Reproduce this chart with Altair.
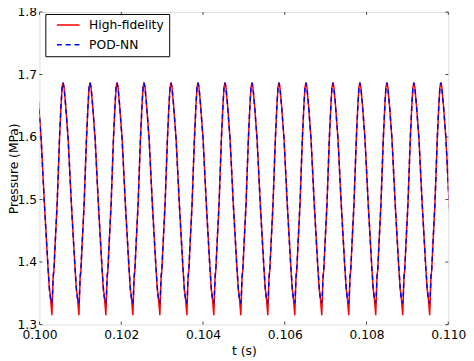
import altair as alt
import pandas as pd

# Peak times of the pressure oscillation (s)
peak_times = [0.099917, 0.100577, 0.101237, 0.101897, 0.102557, 0.103217,
              0.103877, 0.104537, 0.105197, 0.105857, 0.106517, 0.107177,
              0.107837, 0.108497, 0.109157, 0.109817]
# One cycle, read as time offsets from each peak (s)
cycle_offsets = [-0.000272, -0.000257, -0.000241, -0.000224, -0.000192,
                 -0.000144, -0.000087, -0.000048, -0.000022, 0.0, 0.000024,
                 0.000065, 0.000125, 0.000204, 0.000289, 0.000327, 0.000344]
# Pressure values (MPa) along one cycle
hifi_cycle = [1.315, 1.345, 1.378, 1.386, 1.430, 1.493, 1.597, 1.652, 1.680,
              1.687, 1.680, 1.650, 1.597, 1.493, 1.395, 1.355, 1.350]
podnn_cycle = [1.334, 1.350, 1.376, 1.386, 1.430, 1.493, 1.597, 1.652, 1.680,
               1.687, 1.680, 1.650, 1.597, 1.493, 1.395, 1.358, 1.345]

series_names = ["High-fidelity", "POD-NN"]
series_colors = ["#ff0000", "#0000ff"]

x_ticks = [0.100, 0.102, 0.104, 0.106, 0.108, 0.110]
y_ticks = [1.3, 1.4, 1.5, 1.6, 1.7, 1.8]

rows = []
for name, vals in zip(series_names, [hifi_cycle, podnn_cycle]):
    for pk in peak_times:
        for off, v in zip(cycle_offsets, vals):
            rows.append({"t": round(pk + off, 6), "p": v, "series": name})
df = pd.DataFrame(rows)

W, H = 416, 318
FONT = "DejaVu Sans"
xscale = alt.Scale(domain=[0.100, 0.110], nice=False, zero=False)
yscale = alt.Scale(domain=[1.3, 1.8], nice=False, zero=False)

xaxis = alt.Axis(values=x_ticks, format=".3f", title="t (s)",
                 grid=False, ticks=False, tickSize=0, domain=False,
                 labelPadding=4, labelFontSize=12.5, labelFont=FONT,
                 labelColor="black", titleFont=FONT,
                 titleFontSize=12.5, titleFontWeight="normal",
                 titleColor="black", titleY=20, titleBaseline="top",
                 labelFlush=False)
yaxis = alt.Axis(values=y_ticks, format=".1f", title="Pressure (MPa)",
                 grid=False, ticks=False, tickSize=0, domain=False,
                 labelPadding=3, labelFontSize=12.5, labelFont=FONT,
                 labelColor="black", titleFont=FONT,
                 titleFontSize=12.5, titleFontWeight="normal",
                 titleColor="black", titleX=-19, titleY=H / 2,
                 titleAngle=270, titleBaseline="bottom",
                 titleAlign="center", labelFlush=False)

legend = alt.Legend(orient="none", legendX=6, legendY=2, title=None,
                    strokeColor="black", fillColor="white", padding=5,
                    cornerRadius=0, labelFont=FONT, labelFontSize=12.5,
                    labelColor="black", symbolType="M-4,0H4", symbolSize=33,
                    symbolStrokeWidth=1.5, symbolOffset=12, labelOffset=15,
                    rowPadding=7)

lines = alt.Chart(df).mark_line(clip=True, strokeWidth=1.5).encode(
    x=alt.X("t:Q", scale=xscale, axis=xaxis),
    y=alt.Y("p:Q", scale=yscale, axis=yaxis),
    color=alt.Color("series:N",
                    scale=alt.Scale(domain=series_names, range=series_colors),
                    legend=legend),
    strokeDash=alt.StrokeDash("series:N",
                              scale=alt.Scale(domain=series_names,
                                              range=[[1, 0], [5, 4]]),
                              legend=legend),
)

xt = pd.DataFrame({"t": x_ticks})
yt = pd.DataFrame({"p": y_ticks})
tick_color = "#444444"
bottom_ticks = alt.Chart(xt).mark_rule(color=tick_color, strokeWidth=1).encode(
    x=alt.X("t:Q", scale=xscale, axis=xaxis), y=alt.value(H), y2=alt.value(H - 3))
top_ticks = alt.Chart(xt).mark_rule(color=tick_color, strokeWidth=1).encode(
    x=alt.X("t:Q", scale=xscale, axis=xaxis), y=alt.value(0), y2=alt.value(3))
left_ticks = alt.Chart(yt).mark_rule(color=tick_color, strokeWidth=1).encode(
    y=alt.Y("p:Q", scale=yscale, axis=yaxis), x=alt.value(0), x2=alt.value(3))
right_ticks = alt.Chart(yt).mark_rule(color=tick_color, strokeWidth=1).encode(
    y=alt.Y("p:Q", scale=yscale, axis=yaxis), x=alt.value(W), x2=alt.value(W - 3))

chart = alt.layer(lines, bottom_ticks, top_ticks, left_ticks, right_ticks).properties(
    width=W, height=H,
    autosize=alt.AutoSizeParams(type="none"),
    padding={"left": 32, "top": 1, "right": 18, "bottom": 34},
).configure_view(stroke="black", strokeWidth=1).configure(background="white")

chart.save("out.html", embed_options={"renderer": "svg", "actions": False})
